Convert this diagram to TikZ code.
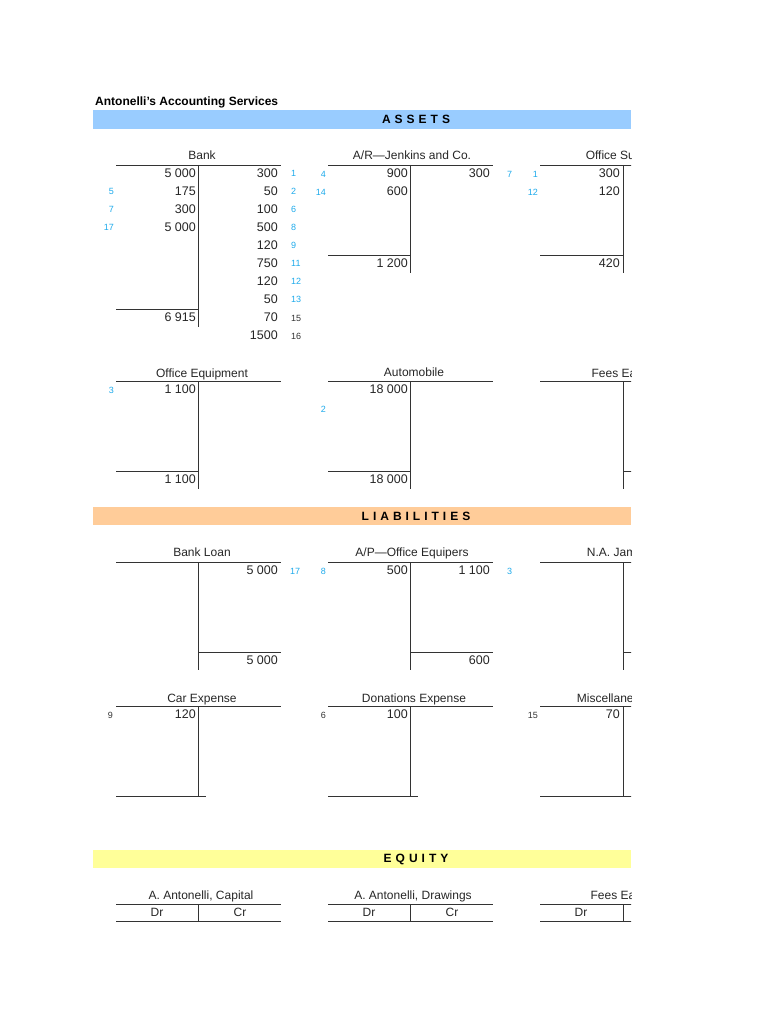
\documentclass[tikz,border=0pt]{standalone}
\usepackage{fontspec}
\setmainfont{Liberation Sans}
\definecolor{bblue}{RGB}{153,204,255}
\definecolor{borange}{RGB}{255,204,153}
\definecolor{byellow}{RGB}{255,255,153}
\definecolor{refblue}{RGB}{30,170,235}
\begin{document}
\begin{tikzpicture}[x=1pt,y=-1pt,
  ln/.style={line width=0.9pt,black!80},
  amt/.style={anchor=east,inner sep=0pt,font=\fontsize{12.5}{14}\selectfont,text=black!85},
  ttl/.style={anchor=base,inner sep=0pt,font=\fontsize{12}{14}\selectfont,text=black!85},
  ref/.style={inner sep=0pt,font=\fontsize{9}{10}\selectfont,text=refblue},
  refk/.style={inner sep=0pt,font=\fontsize{9}{10}\selectfont,text=black!80},
  band/.style={inner sep=0pt,font=\bfseries\fontsize{12}{14}\selectfont}]
\useasboundingbox (0,0) rectangle (768,1024);
\node[anchor=base west,inner sep=0pt,font=\bfseries\fontsize{12}{14}\selectfont] (co) at (95,106) {Antonelli's Accounting Services};
\fill[bblue] (93,110) rectangle (631,129);
\node[band] (as) at (416,119) {A\,\,S\,\,S\,\,E\,\,T\,\,S};
\fill[borange] (93,507) rectangle (631,525);
\node[band] (li) at (416,516) {L\,\,I\,\,A\,\,B\,\,I\,\,L\,\,I\,\,T\,\,I\,\,E\,\,S};
\fill[byellow] (93,850) rectangle (631,868);
\node[band] (eq) at (416,859) {E\,\,Q\,\,U\,\,I\,\,T\,\,Y};
\begin{scope}
\clip (0,0) rectangle (631,1024);
% Row 1
\node[ttl] (t1) at (202,160) {Bank};
\draw[ln] (116,165) -- (281,165); \draw[ln] (198,165) -- (198,327); \draw[ln] (116,309) -- (198,309);
\foreach \v/\y [count=\i] in {5 000/173,175/191,300/209,5 000/227} \node[amt] (bd\i) at (196,\y) {\v};
\foreach \v/\y [count=\i] in {300/173,50/191,100/209,500/227,120/245,750/263,120/281,50/299,70/317,1500/335} \node[amt] (bc\i) at (278,\y) {\v};
\node[amt] (bt) at (196,317) {6 915};
\foreach \v/\y [count=\i] in {5/191,7/209,17/227} \node[ref,anchor=east] (bl\i) at (114,\y) {\v};
\foreach \v/\y [count=\i] in {1/173,2/191,6/209,8/227,9/245,11/263,12/281,13/299} \node[ref,anchor=west] (br\i) at (291,\y) {\v};
\node[refk,anchor=west] (br9) at (291,318) {15}; \node[refk,anchor=west] (br10) at (291,336) {16};
\node[ttl] (t2) at (412,160) {A/R---Jenkins and Co.};
\draw[ln] (328,165) -- (493,165); \draw[ln] (410,165) -- (410,273); \draw[ln] (328,255) -- (410,255);
\node[amt] (a1) at (408,173) {900}; \node[amt] (a2) at (408,191) {600}; \node[amt] (a3) at (490,173) {300}; \node[amt] (a4) at (408,263) {1 200};
\node[ref,anchor=east] (ar1) at (326,174) {4}; \node[ref,anchor=east] (ar2) at (326,192) {14}; \node[ref,anchor=west] (ar3) at (507,174) {7};
\node[ttl] (t3) at (626,160) {Office Supplies};
\draw[ln] (540,165) -- (640,165); \draw[ln] (623,165) -- (623,273); \draw[ln] (540,255) -- (623,255);
\node[amt] (o1) at (620,173) {300}; \node[amt] (o2) at (620,191) {120}; \node[amt] (o3) at (620,263) {420};
\node[ref,anchor=east] (or1) at (538,174) {1}; \node[ref,anchor=east] (or2) at (538,192) {12};
% Row 2
\node[ttl] (t4) at (202,377) {Office Equipment};
\draw[ln] (116,381) -- (281,381); \draw[ln] (198,381) -- (198,489); \draw[ln] (116,471) -- (198,471);
\node[amt] (e1) at (196,389) {1 100}; \node[amt] (e2) at (196,479) {1 100}; \node[ref,anchor=east] (er) at (114,390) {3};
\node[ttl] (t5) at (414,376) {Automobile};
\draw[ln] (328,381) -- (493,381); \draw[ln] (410,381) -- (410,489); \draw[ln] (328,471) -- (410,471);
\node[amt] (m1) at (408,389) {18 000}; \node[amt] (m2) at (408,479) {18 000}; \node[ref,anchor=east] (mr) at (326,409) {2};
\node[ttl] (t6) at (626,377) {Fees Earned};
\draw[ln] (540,381) -- (640,381); \draw[ln] (623,381) -- (623,489); \draw[ln] (623,471) -- (640,471);
% Row 3
\node[ttl] (t7) at (202,556) {Bank Loan};
\draw[ln] (116,562) -- (281,562); \draw[ln] (198,562) -- (198,670); \draw[ln] (198,652) -- (281,652);
\node[amt] (l1) at (278,570) {5 000}; \node[amt] (l2) at (278,660) {5 000}; \node[ref,anchor=west] (lr) at (290,571) {17};
\node[ttl] (t8) at (412,556) {A/P---Office Equipers};
\draw[ln] (328,562) -- (493,562); \draw[ln] (410,562) -- (410,670); \draw[ln] (410,652) -- (493,652);
\node[amt] (p1) at (408,570) {500}; \node[amt] (p2) at (490,570) {1 100}; \node[amt] (p3) at (490,660) {600};
\node[ref,anchor=east] (pr1) at (326,571) {8}; \node[ref,anchor=west] (pr2) at (507,571) {3};
\node[ttl] (t9) at (640,556) {N.A. James, Capital};
\draw[ln] (540,562) -- (640,562); \draw[ln] (623,562) -- (623,670); \draw[ln] (623,652) -- (640,652);
% Row 4
\node[ttl] (t10) at (202,702) {Car Expense};
\draw[ln] (116,706) -- (281,706); \draw[ln] (198,706) -- (198,796); \draw[ln] (116,796) -- (206,796);
\node[amt] (c1) at (196,714) {120}; \node[refk,anchor=east] (cr) at (113,715) {9};
\node[ttl] (t11) at (414,702) {Donations Expense};
\draw[ln] (328,706) -- (493,706); \draw[ln] (410,706) -- (410,796); \draw[ln] (328,796) -- (418,796);
\node[amt] (d1) at (408,714) {100}; \node[refk,anchor=east] (dr) at (326,715) {6};
\node[ttl] (t12) at (640,702) {Miscellaneous Expense};
\draw[ln] (540,706) -- (640,706); \draw[ln] (623,706) -- (623,796); \draw[ln] (540,796) -- (640,796);
\node[amt] (x1) at (620,714) {70}; \node[refk,anchor=east] (xr) at (538,715) {15};
% Equity
\foreach \n/\xa/\xv/\t in {q1/116/198/{A. Antonelli, Capital},q2/328/410/{A. Antonelli, Drawings},q3/540/623/{Fees Earned}} {
  \node[ttl] (\n t) at (\xa+85,899) {\t};
  \draw[ln] (\xa,904) -- (\xa+165,904); \draw[ln] (\xa,921) -- (\xa+165,921); \draw[ln] (\xv,904) -- (\xv,921);
  \node[ttl] (\n d) at (\xa+41,916) {Dr}; \node[ttl] (\n c) at (\xv+42,916) {Cr};
}
\end{scope}
\end{tikzpicture}
\end{document}
